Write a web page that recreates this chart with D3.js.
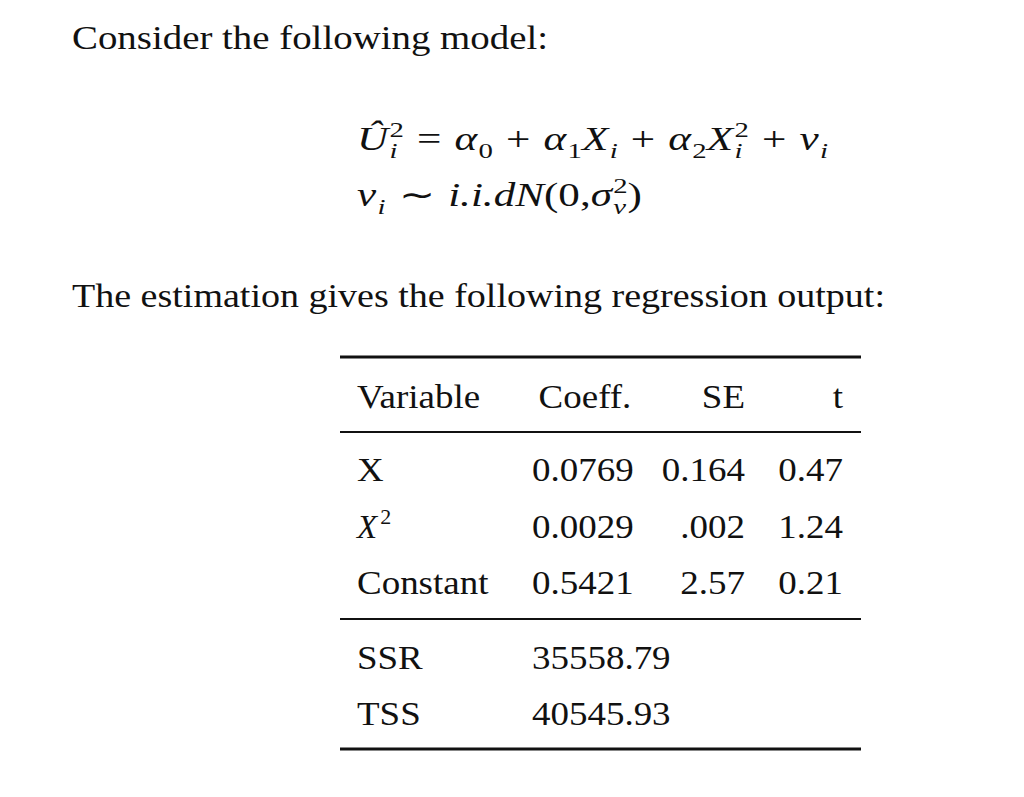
<!DOCTYPE html>
<html><head><meta charset="utf-8">
<script src="https://cdn.jsdelivr.net/npm/d3@7"></script>
<style>body{margin:0;background:#fff}svg text{font-family:"Liberation Serif",serif;fill:#111}</style>
</head><body><svg id="c" width="1024" height="797"></svg>
<script>
const headers=["Variable","Coeff.","SE","t"];
const variables=["X","X2","Constant"];
const coeffs=["0.0769","0.0029","0.5421"];
const ses=["0.164",".002","2.57"];
const tvals=["0.47","1.24","0.21"];
const statNames=["SSR","TSS"];
const statVals=["35558.79","40545.93"];

const svg=d3.select("#c");
const fs=33;
function prose(txt,x,y,w){svg.append("text").attr("x",x).attr("y",y).attr("font-size",fs)
 .attr("textLength",w).attr("lengthAdjust","spacingAndGlyphs").text(txt);}
prose("Consider the following model:",72,49,476);
prose("The estimation gives the following regression output:",72,307,813);

function measure(t,size,it){const n=svg.append("text").attr("font-size",size).attr("font-style",it?"italic":"normal").text(t);const w=n.node().getComputedTextLength();n.remove();return w;}
function eq(pieces,x0,y,targetW){
  const g=svg.append("g");let x=x0;
  pieces.forEach(p=>{
    const t=g.append("text").attr("x",x).attr("y",y).attr("font-size",fs).attr("font-style",p.i?"italic":"normal");
    t.append("tspan").text(p.t);
    let w=measure(p.t,fs,p.i);
    if(p.sub||p.sup){
      let ws=0,wsub=0;
      if(p.sub){wsub=measure(p.sub,22,p.subi);t.append("tspan").attr("dx",1).attr("dy",8).attr("font-size",22).attr("font-style",p.subi?"italic":"normal").text(p.sub);ws=wsub+1;}
      if(p.sup){const wsup=measure(p.sup,22,false);t.append("tspan").attr("dx",p.sub?-wsub:1).attr("dy",p.sub?-21:-13).attr("font-size",22).attr("font-style","normal").text(p.sup);ws=Math.max(ws,wsup+1);}
      w+=ws;
    }
    x+=w+(p.gap||0);
  });
  const k=targetW/(x-x0); g.attr("transform",`translate(${x0*(1-k)},0) scale(${k},1)`);
}
eq([{t:"Û",i:1,sub:"i",subi:1,sup:"2",gap:10},{t:"=",gap:10},{t:"α",i:1,sub:"0",gap:10},{t:"+",gap:10},{t:"α",i:1,sub:"1"},{t:"X",i:1,sub:"i",subi:1,gap:10},{t:"+",gap:10},{t:"α",i:1,sub:"2"},{t:"X",i:1,sub:"i",subi:1,sup:"2",gap:10},{t:"+",gap:10},{t:"ν",i:1,sub:"i",subi:1}],357,150,471);
eq([{t:"ν",i:1,sub:"i",subi:1,gap:10},{t:"∼",gap:10},{t:"i.i.dN",i:1},{t:"(0, "},{t:"σ",i:1,sub:"ν",subi:1,sup:"2"},{t:")"}],357,206,285);

function rule(y,w){svg.append("line").attr("x1",340).attr("x2",861).attr("y1",y).attr("y2",y).attr("stroke","#111").attr("stroke-width",w);}
rule(357,3);rule(432,1.8);rule(619,1.8);rule(749,3);
function cell(t,x,y,anchor,it){const w=measure(t,fs,it)*1.12;return svg.append("text").attr("x",x).attr("y",y).attr("font-size",fs).attr("font-style",it?"italic":"normal")
 .attr("text-anchor",anchor).attr("textLength",w).attr("lengthAdjust","spacingAndGlyphs").text(t);}
cell(headers[0],357,408,"start");cell(headers[1],585,408,"middle");cell(headers[2],745,408,"end");cell(headers[3],843,408,"end");
const rowY=[481,538,594];
variables.forEach((v,i)=>{
  if(v==="X2"){const t=svg.append("text").attr("x",357).attr("y",rowY[i]).attr("font-size",fs).attr("font-style","italic");
    t.append("tspan").text("X");t.append("tspan").attr("dx",3).attr("dy",-14).attr("font-size",22).attr("font-style","normal").text("2");}
  else cell(v,357,rowY[i],"start");
  cell(coeffs[i],532,rowY[i],"start");cell(ses[i],745,rowY[i],"end");cell(tvals[i],843,rowY[i],"end");
});
const sY=[669,725];
statNames.forEach((s,i)=>{cell(s,357,sY[i],"start");cell(statVals[i],532,sY[i],"start");});
</script></body></html>
